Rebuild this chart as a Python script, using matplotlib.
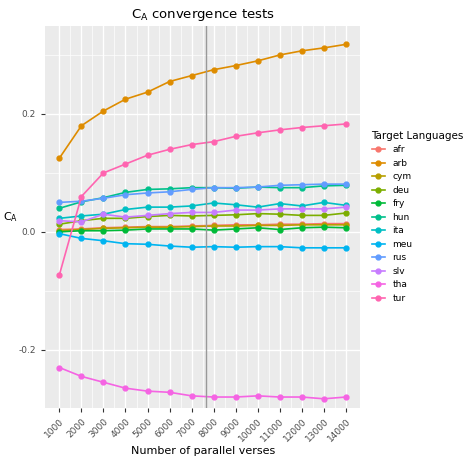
import numpy as np
import matplotlib.pyplot as plt

verses = [1000, 2000, 3000, 4000, 5000, 6000, 7000, 8000, 9000, 10000, 11000, 12000, 13000, 14000]

languages = ["afr", "arb", "cym", "deu", "fry", "hun", "ita", "meu", "rus", "slv", "tha", "tur"]
colors = ["#F8766D", "#DE8C00", "#B79F00", "#7CAE00", "#00BA38", "#00C08B",
          "#00BFC4", "#00B4F0", "#619CFF", "#C77CFF", "#F564E3", "#FF64B0"]

afr = [0.004, 0.005, 0.007, 0.008, 0.009, 0.009, 0.010, 0.011, 0.012, 0.012, 0.013, 0.013, 0.014, 0.014]
arb = [0.125, 0.180, 0.205, 0.225, 0.237, 0.255, 0.265, 0.275, 0.282, 0.290, 0.300, 0.307, 0.312, 0.318]
cym = [0.002, 0.004, 0.006, 0.007, 0.008, 0.008, 0.009, 0.010, 0.010, 0.011, 0.011, 0.012, 0.012, 0.012]
deu = [0.013, 0.019, 0.023, 0.023, 0.026, 0.028, 0.027, 0.028, 0.029, 0.031, 0.030, 0.028, 0.028, 0.032]
fry = [0.000, 0.002, 0.002, 0.003, 0.005, 0.005, 0.005, 0.003, 0.005, 0.007, 0.004, 0.007, 0.008, 0.007]
hun = [0.040, 0.051, 0.058, 0.067, 0.072, 0.073, 0.075, 0.075, 0.074, 0.076, 0.075, 0.075, 0.078, 0.079]
ita = [0.023, 0.027, 0.030, 0.038, 0.042, 0.042, 0.044, 0.049, 0.046, 0.042, 0.048, 0.044, 0.050, 0.045]
meu = [-0.003, -0.011, -0.015, -0.020, -0.021, -0.024, -0.026, -0.025, -0.026, -0.025, -0.025, -0.027, -0.027, -0.027]
rus = [0.050, 0.052, 0.057, 0.063, 0.066, 0.068, 0.072, 0.075, 0.075, 0.076, 0.079, 0.080, 0.081, 0.081]
slv = [0.019, 0.017, 0.030, 0.025, 0.028, 0.031, 0.033, 0.033, 0.037, 0.037, 0.039, 0.039, 0.039, 0.042]
tha = [-0.230, -0.245, -0.255, -0.265, -0.270, -0.272, -0.278, -0.280, -0.280, -0.278, -0.280, -0.280, -0.283, -0.280]
tur = [-0.073, 0.060, 0.100, 0.115, 0.130, 0.140, 0.148, 0.153, 0.162, 0.168, 0.173, 0.177, 0.180, 0.183]
series = [afr, arb, cym, deu, fry, hun, ita, meu, rus, slv, tha, tur]

marker_x = 7650

fig = plt.figure(figsize=(4.74, 4.74), dpi=100)
ax = fig.add_axes([0.095, 0.14, 0.665, 0.805])
ax.set_facecolor("#EBEBEB")
for s in ax.spines.values():
    s.set_visible(False)

ax.set_xticks(verses)
ax.set_xticks(np.array(verses[:-1]) + 500, minor=True)
ax.set_yticks([-0.2, 0.0, 0.2])
ax.set_yticks([-0.1, 0.1, 0.3], minor=True)
ax.grid(which="major", color="white", linewidth=1.0)
ax.grid(which="minor", color="white", linewidth=0.5)
ax.set_axisbelow(True)

for name, vals, col in zip(languages, series, colors):
    ax.plot(verses, vals, color=col, marker="o", markersize=3.5, linewidth=1.2, label=name)

ax.axvline(marker_x, color="#999999", linewidth=1.0)

ax.set_xlim(350, 14650)
ax.set_ylim(-0.298, 0.349)
ax.set_yticklabels(["-0.2", "0.0", "0.2"])
ax.tick_params(axis="both", which="both", length=3, color="#333333", labelsize=6.5, labelcolor="#4D4D4D")
ax.tick_params(which="minor", length=0)
plt.setp(ax.get_xticklabels(), rotation=45, ha="right", rotation_mode="anchor")

ax.set_xlabel("Number of parallel verses", fontsize=8, labelpad=2)
ax.set_ylabel("C$_\\mathregular{A}$", fontsize=8, rotation=0, labelpad=6, va="center")
ax.set_title("C$_\\mathregular{A}$ convergence tests", fontsize=9.5)

leg = ax.legend(title="Target Languages", loc="center left", bbox_to_anchor=(1.01, 0.5),
                frameon=False, fontsize=6.5, title_fontsize=7.5, handlelength=1.5, labelspacing=0.5)
leg._legend_box.align = "left"

fig.savefig("out.png", dpi=100)
